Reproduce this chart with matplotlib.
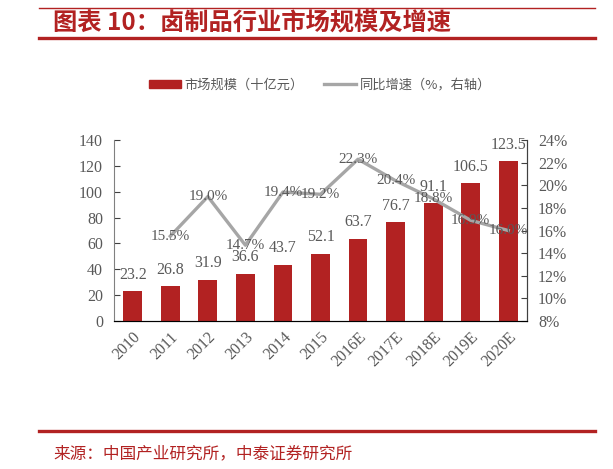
import matplotlib.pyplot as plt
from matplotlib.lines import Line2D
from matplotlib.patches import Patch

years = ["2010", "2011", "2012", "2013", "2014", "2015",
         "2016E", "2017E", "2018E", "2019E", "2020E"]
market_size = [23.2, 26.8, 31.9, 36.6, 43.7, 52.1, 63.7, 76.7, 91.1, 106.5, 123.5]
growth_years = years[1:]
growth = [15.5, 19.0, 14.7, 19.4, 19.2, 22.3, 20.4, 18.8, 16.9, 16.0]

red = "#b22222"
gray_line = "#a6a6a6"
text_gray = "#595959"
num_font = "Liberation Serif"
cjk = ["Noto Sans CJK SC", "DejaVu Sans"]

W, H = 613, 469
fig = plt.figure(figsize=(W / 100, H / 100), dpi=100)

# header / footer decoration
def hline(y, lw):
    fig.add_artist(Line2D([39 / W, 595 / W], [1 - y / H, 1 - y / H],
                          color=red, lw=lw, transform=fig.transFigure))

hline(8.5, 1.0)
hline(38, 2.4)
hline(431, 2.4)
fig.text(53 / W, 1 - 23 / H, "图表 10：卤制品行业市场规模及增速", family=cjk,
         fontsize=17.5, fontweight="bold", color=red, va="center", ha="left")
fig.text(53 / W, 1 - 454 / H, "来源：中国产业研究所，中泰证券研究所", family=cjk,
         fontsize=12, color=red, va="center", ha="left")

ax = fig.add_axes([114 / W, 1 - 321 / H, (527 - 114) / W, (321 - 140) / H])
x = list(range(len(years)))
ax.bar(x, market_size, width=0.5, color=red, zorder=2)
ax.set_xlim(-0.5, len(years) - 0.5)
ax.set_ylim(0, 140)
ax.set_yticks(range(0, 141, 20))
ax.set_xticks(x)
ax.set_xticklabels(years, rotation=45, ha="right", rotation_mode="anchor",
                   family=num_font, fontsize=11.5, color=text_gray)
ax.tick_params(axis="x", length=0, pad=6)
ax.tick_params(axis="y", direction="in", length=4, colors="#404040",
               labelcolor=text_gray, labelsize=11.5, pad=8)
for lbl in ax.get_yticklabels():
    lbl.set_family(num_font)
ax.spines["top"].set_visible(False)
ax.spines["left"].set_color("#808080")
ax.spines["bottom"].set_color("#404040")
ax.spines["right"].set_color("#404040")

for xi, v in zip(x, market_size):
    ax.annotate(f"{v:.1f}", (xi, v), xytext=(0, 6), textcoords="offset points",
                ha="center", va="bottom", family=num_font, fontsize=11.5,
                color=text_gray, zorder=5)

ax2 = ax.twinx()
gx = [years.index(y) for y in growth_years]
ax2.plot(gx, growth, color=gray_line, lw=2.4, zorder=3)
ax2.set_ylim(8, 24)
ax2.set_yticks(range(8, 25, 2))
ax2.set_yticklabels([f"{t}%" for t in range(8, 25, 2)], family=num_font)
ax2.tick_params(axis="y", direction="in", length=4, colors="#404040",
                labelcolor=text_gray, labelsize=11.5, pad=8)
ax2.spines["top"].set_visible(False)
ax2.spines["right"].set_color("#404040")
ax2.spines["left"].set_visible(False)
for xi, v in zip(gx, growth):
    ax2.text(xi, v, f"{v:.1f}%", ha="center", va="center", family=num_font,
             fontsize=11, color=text_gray, zorder=6)

handles = [Patch(color=red), Line2D([], [], color=gray_line, lw=2.4)]
labels = ["市场规模（十亿元）", "同比增速（%，右轴）"]
fig.legend(handles, labels, loc="center", bbox_to_anchor=(320 / W, 1 - 85 / H),
           ncol=2, frameon=False, prop={"family": cjk, "size": 9.5},
           labelcolor=text_gray, handlelength=2.4, handleheight=0.6,
           columnspacing=1.5, handletextpad=0.3)

fig.savefig("out.png", dpi=100)
